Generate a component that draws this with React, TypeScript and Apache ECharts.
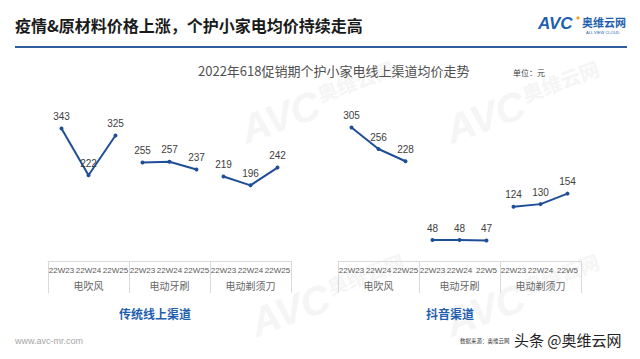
import React, { useEffect, useRef } from "react";
import * as echarts from "echarts";

const pageTitle = "疫情&原材料价格上涨，个护小家电均价持续走高";
const chartTitle = "2022年618促销期个护小家电线上渠道均价走势";
const unitText = "单位：元";
const groups = ["电吹风", "电动牙刷", "电动剃须刀"];
const weeksOnline = ["22W23", "22W24", "22W25", "22W23", "22W24", "22W25", "22W23", "22W24", "22W25"];
const weeksDouyin = ["22W23", "22W24", "22W25", "22W23", "22W24", "22W5", "22W23", "22W24", "22W5"];
// 传统线上渠道
const onlineHairDryer = [343, 222, 325];
const onlineToothbrush = [255, 257, 237];
const onlineShaver = [219, 196, 242];
// 抖音渠道
const douyinHairDryer = [305, 256, 228];
const douyinToothbrush = [48, 48, 47];
const douyinShaver = [124, 130, 154];
const panelNames = ["传统线上渠道", "抖音渠道"];

const BLUE = "#1f4e96";
const CJK = "'Noto Sans CJK SC', 'Liberation Sans', sans-serif";
const NUM = "'Liberation Sans', 'Noto Sans CJK SC', sans-serif";

function spread(vals: number[], g: number): (number | string)[] {
  const arr: (number | string)[] = new Array(9).fill("-");
  vals.forEach((v, i) => (arr[g * 3 + i] = v));
  return arr;
}

function lineSeries(vals: number[], g: number, idx: number) {
  return {
    type: "line",
    xAxisIndex: idx * 2,
    yAxisIndex: idx,
    data: spread(vals, g),
    symbol: "circle",
    symbolSize: 4,
    connectNulls: false,
    z: 3,
    lineStyle: { color: BLUE, width: 2 },
    itemStyle: { color: BLUE },
    label: {
      show: true,
      position: "top",
      distance: 5,
      color: "#404040",
      fontSize: 10,
      fontFamily: NUM,
    },
  };
}

function weekAxis(grid: number, labels: string[]) {
  return {
    type: "category",
    gridIndex: grid,
    position: "bottom",
    data: labels,
    boundaryGap: true,
    axisLine: { show: true, lineStyle: { color: "#d9d9d9", width: 1 } },
    axisTick: { show: false },
    axisLabel: { interval: 0, margin: 5, fontSize: 8, color: "#595959", fontFamily: NUM },
    splitLine: { show: false },
  };
}

function groupAxis(grid: number) {
  return {
    type: "category",
    gridIndex: grid,
    position: "bottom",
    data: groups,
    boundaryGap: true,
    axisLine: { show: false },
    axisTick: { show: true, length: 32, lineStyle: { color: "#d9d9d9", width: 1 } },
    axisLabel: { interval: 0, margin: 19, fontSize: 10, color: "#666666", fontFamily: CJK },
    splitLine: { show: false },
  };
}

export default function App() {
  const ref = useRef<HTMLDivElement>(null);
  useEffect(() => {
    if (!ref.current) return;
    const chart = echarts.init(ref.current, null, { renderer: "svg" });
    const wm = (x: number, y: number) => ({
      type: "group",
      x,
      y,
      rotation: Math.PI / 9,
      silent: true,
      z: -10,
      children: [
        {
          type: "text",
          x: 0,
          y: 0,
          style: { text: "AVC", fontSize: 40, fontWeight: "bold", fontStyle: "italic", fill: "#f5f5f5", fontFamily: NUM },
        },
        {
          type: "text",
          x: 84,
          y: 2,
          style: { text: "奥维云网", fontSize: 20, fontWeight: "bold", fill: "#f5f5f5", fontFamily: CJK },
        },
      ],
    });
    chart.setOption({
      animation: false,
      backgroundColor: "#ffffff",
      grid: [
        { left: 48, width: 243, top: 68, bottom: 98 },
        { left: 338, width: 243, top: 86, bottom: 98 },
      ],
      xAxis: [weekAxis(0, weeksOnline), groupAxis(0), weekAxis(1, weeksDouyin), groupAxis(1)],
      yAxis: [
        { type: "value", gridIndex: 0, min: 0, max: 500, show: false, splitLine: { show: false } },
        { type: "value", gridIndex: 1, min: 0, max: 400, show: false, splitLine: { show: false } },
      ],
      series: [
        lineSeries(onlineHairDryer, 0, 0),
        lineSeries(onlineToothbrush, 1, 0),
        lineSeries(onlineShaver, 2, 0),
        lineSeries(douyinHairDryer, 0, 1),
        lineSeries(douyinToothbrush, 1, 1),
        lineSeries(douyinShaver, 2, 1),
      ],
      graphic: [
        wm(235, 112),
        wm(440, 112),
        wm(245, 305),
        wm(440, 305),
        {
          type: "text",
          left: 15,
          top: 17,
          style: { text: pageTitle, fontSize: 16, fontWeight: "bold", fill: "#1a1a1a", fontFamily: CJK },
        },
        {
          type: "line",
          shape: { x1: 15, y1: 47, x2: 627, y2: 47 },
          style: { stroke: "#2f5f9e", lineWidth: 2 },
        },
        {
          type: "text",
          left: 538,
          top: 15,
          style: { text: "AVC", fontSize: 17, fontWeight: "bold", fontStyle: "italic", fill: "#1f5fb0", fontFamily: NUM },
        },
        {
          type: "circle",
          shape: { cx: 578, cy: 18, r: 1.6 },
          style: { fill: "#f0a020" },
        },
        {
          type: "text",
          left: 582,
          top: 16,
          style: { text: "奥维云网", fontSize: 11, fontWeight: "bold", fill: "#1f5fb0", fontFamily: CJK },
        },
        {
          type: "text",
          left: 586,
          top: 30,
          style: { text: "ALL VIEW CLOUD", fontSize: 4, fill: "#1f5fb0", fontFamily: NUM },
        },
        {
          type: "text",
          left: 198,
          top: 64,
          style: { text: chartTitle, fontSize: 13, fill: "#505050", fontFamily: CJK },
        },
        {
          type: "text",
          left: 513,
          top: 68,
          style: { text: unitText, fontSize: 8, fill: "#404040", fontFamily: CJK },
        },
        {
          type: "text",
          x: 155,
          y: 313,
          style: { text: panelNames[0], fontSize: 12, fontWeight: "bold", fill: "#1f5fb0", fontFamily: CJK, align: "center", verticalAlign: "middle" },
        },
        {
          type: "text",
          x: 450,
          y: 313,
          style: { text: panelNames[1], fontSize: 12, fontWeight: "bold", fill: "#1f5fb0", fontFamily: CJK, align: "center", verticalAlign: "middle" },
        },
        {
          type: "text",
          left: 15,
          top: 336,
          style: { text: "www.avc-mr.com", fontSize: 9, fill: "#a6a6a6", fontFamily: NUM },
        },
        {
          type: "text",
          left: 460,
          top: 338,
          style: { text: "数据来源：奥维云网", fontSize: 5.5, fill: "#404040", fontFamily: CJK },
        },
        {
          type: "text",
          left: 513,
          top: 331,
          style: {
            text: "头条 @奥维云网",
            fontSize: 15,
            fill: "#222222",
            fontFamily: CJK,
            stroke: "#ffffff",
            lineWidth: 2,
          },
        },
      ],
    });
    return () => chart.dispose();
  }, []);
  return (
    <div
      ref={ref}
      style={{ position: "absolute", left: 0, top: 0, width: 640, height: 359 }}
    />
  );
}
